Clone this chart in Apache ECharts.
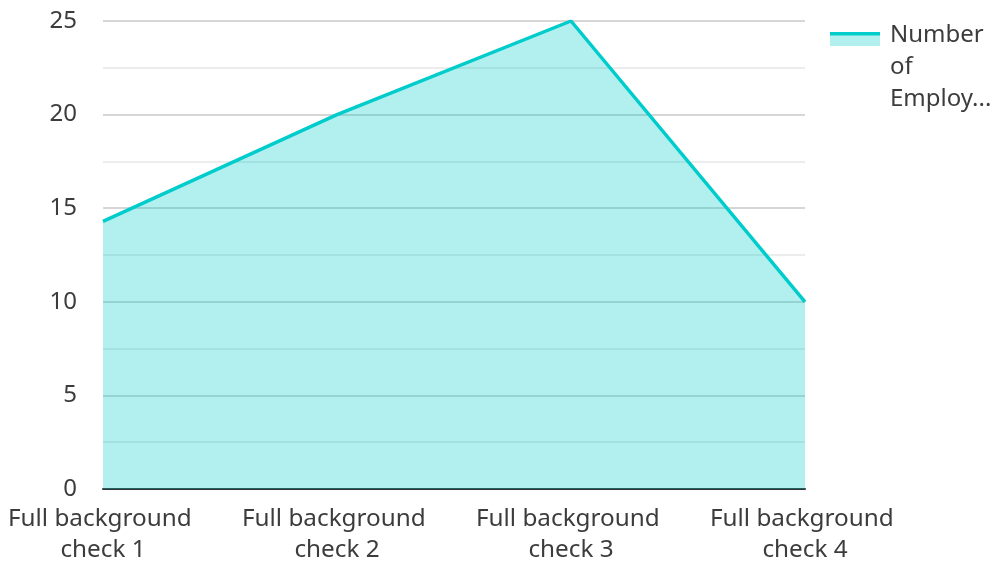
<!DOCTYPE html>
<html>
<head>
<meta charset="utf-8">
<script src="https://cdn.jsdelivr.net/npm/echarts@6/dist/echarts.min.js"></script>
<style>
html,body{margin:0;padding:0;background:#fff;}
#chart{width:995px;height:563px;}
</style>
</head>
<body>
<div id="chart"></div>
<script>
const categories = ['Full background check 1', 'Full background check 2', 'Full background check 3', 'Full background check 4'];
const seriesName = 'Number of Employees';
const employees = [14.3, 20, 25, 10];
const yMin = 0, yMax = 25, yInterval = 5;

const lineColor = '#00cccc';
const textColor = '#3c3c3c';
const font = 'Noto Sans';
const chart = echarts.init(document.getElementById('chart'));
chart.setOption({
  animation: false,
  textStyle: { fontFamily: font },
  grid: { left: 103, right: 190, top: 21, bottom: 74, containLabel: false, outerBoundsMode: 'none' },
  legend: {
    left: 835, top: 19, padding: 0,
    itemWidth: 50, itemHeight: 14, itemGap: 10,
    icon: 'rect',
    itemStyle: { opacity: 0 },
    data: [seriesName],
    formatter: function () { return 'Number\nof\nEmploy...'; },
    textStyle: { fontFamily: font, fontSize: 24, lineHeight: 32, color: textColor }
  },
  graphic: [
    { type: 'rect', left: 830, top: 35, shape: { width: 50, height: 11 }, style: { fill: 'rgba(0,204,204,0.3)' }, z: 10 },
    { type: 'rect', left: 830, top: 32, shape: { width: 50, height: 3.5 }, style: { fill: lineColor }, z: 11 }
  ],
  xAxis: {
    type: 'category',
    data: categories,
    boundaryGap: false,
    axisTick: { show: false },
    axisLine: { lineStyle: { color: '#333', width: 2 } },
    axisLabel: {
      fontFamily: font, fontSize: 24.3, lineHeight: 31, color: textColor,
      margin: 15, width: 210, overflow: 'break', interval: 0
    }
  },
  yAxis: {
    type: 'value',
    min: yMin, max: yMax, interval: yInterval,
    axisLine: { show: false },
    axisTick: { show: false },
    axisLabel: { fontFamily: font, fontSize: 24, color: textColor, margin: 26 },
    splitLine: { lineStyle: { color: '#c8c8c8', width: 1.5 } },
    minorTick: { show: false, splitNumber: 2 },
    minorSplitLine: { show: true, lineStyle: { color: '#e6e6e6', width: 1.5 } }
  },
  series: [{
    name: seriesName,
    type: 'line',
    data: employees,
    symbol: 'none',
    lineStyle: { color: lineColor, width: 3.5 },
    itemStyle: { color: lineColor },
    areaStyle: { color: lineColor, opacity: 0.3 },
    z: 1
  }]
});
</script>
</body>
</html>
